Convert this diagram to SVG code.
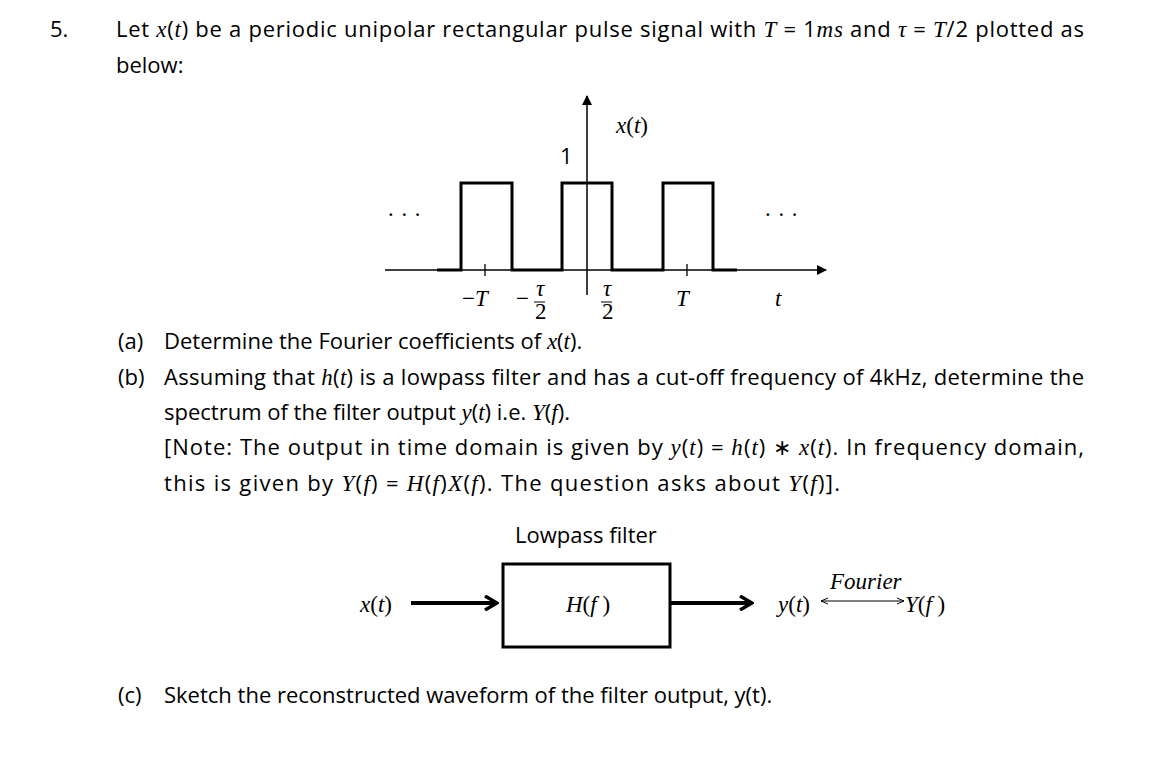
<svg xmlns="http://www.w3.org/2000/svg" width="1157" height="760" viewBox="0 0 1157 760">
<style>
.t{font-family:"Open Sans","Noto Sans",sans-serif;font-size:22px;fill:#000}
.m{font-family:"Liberation Serif",serif;font-style:italic;font-size:23px}
.mi{font-family:"Liberation Serif",serif;font-size:23px;fill:#000}
.ln{stroke:#000;fill:none}
</style>
<defs>
<marker id="ah" markerWidth="10" markerHeight="10" refX="9" refY="5" orient="auto" markerUnits="userSpaceOnUse"><path d="M0,0 L10,5 L0,10 Z" fill="#000"/></marker>
<marker id="sa" markerWidth="8" markerHeight="8" refX="7" refY="4" orient="auto" markerUnits="userSpaceOnUse"><path d="M0,1 L7,4 L0,7" fill="none" stroke="#000"/></marker>
<marker id="sb" markerWidth="8" markerHeight="8" refX="1" refY="4" orient="auto" markerUnits="userSpaceOnUse"><path d="M8,1 L1,4 L8,7" fill="none" stroke="#000"/></marker>
<marker id="bh" markerWidth="16" markerHeight="16" refX="14" refY="8" orient="auto" markerUnits="userSpaceOnUse"><path d="M2,1 L14,8 L2,15" fill="none" stroke="#000" stroke-width="3.5"/></marker>
</defs>
<rect width="1157" height="760" fill="#fff"/>
<g id="text">
<text class="t" x="50" y="37">5.</text>
<text class="t" x="116" y="37" textLength="968" lengthAdjust="spacing">Let <tspan class="m">x</tspan>(<tspan class="m">t</tspan>) be a periodic unipolar rectangular pulse signal with <tspan class="m">T</tspan> = 1<tspan class="m">ms</tspan> and <tspan class="m">τ</tspan> = <tspan class="m">T</tspan>/2 plotted as</text>
<text class="t" x="116" y="73">below:</text>
<text class="t" x="118" y="349">(a)</text>
<text class="t" x="164" y="349">Determine the Fourier coefficients of <tspan class="m">x</tspan>(<tspan class="m">t</tspan>).</text>
<text class="t" x="118" y="385">(b)</text>
<text class="t" x="164" y="385" textLength="920" lengthAdjust="spacing">Assuming that <tspan class="m">h</tspan>(<tspan class="m">t</tspan>) is a lowpass filter and has a cut-off frequency of 4kHz, determine the</text>
<text class="t" x="164" y="420">spectrum of the filter output <tspan class="m">y</tspan>(<tspan class="m">t</tspan>) i.e. <tspan class="m">Y</tspan>(<tspan class="m">f</tspan>).</text>
<text class="t" x="164" y="455" textLength="920" lengthAdjust="spacing">[Note: The output in time domain is given by <tspan class="m">y</tspan>(<tspan class="m">t</tspan>) = <tspan class="m">h</tspan>(<tspan class="m">t</tspan>) ∗ <tspan class="m">x</tspan>(<tspan class="m">t</tspan>). In frequency domain,</text>
<text class="t" x="164" y="491" textLength="676" lengthAdjust="spacing">this is given by <tspan class="m">Y</tspan>(<tspan class="m">f</tspan>) = <tspan class="m">H</tspan>(<tspan class="m">f</tspan>)<tspan class="m">X</tspan>(<tspan class="m">f</tspan>). The question asks about <tspan class="m">Y</tspan>(<tspan class="m">f</tspan>)].</text>
<text class="t" x="118" y="703">(c)</text>
<text class="t" x="164" y="703">Sketch the reconstructed waveform of the filter output, y(t).</text>
</g>
<g id="plot">
<line class="ln" x1="385" y1="270" x2="826" y2="270" stroke-width="1.5" marker-end="url(#ah)"/>
<line class="ln" x1="587" y1="295" x2="587" y2="96" stroke-width="1.5" marker-end="url(#ah)"/>
<path class="ln" stroke-width="3" d="M437,270 H461 V183 H512 V270 H562 V183 H612 V270 H663 V183 H713 V270 H737"/>
<line class="ln" x1="485" y1="264" x2="485" y2="276" stroke-width="1.3"/>
<line class="ln" x1="687" y1="264" x2="687" y2="276" stroke-width="1.3"/>
<text class="mi" x="616" y="133" font-size="26"><tspan font-style="italic">x</tspan>(<tspan font-style="italic">t</tspan>)</text>
<text class="t" x="560" y="164">1</text>
<text class="mi" x="387" y="222">· · ·</text>
<text class="mi" x="764" y="222">· · ·</text>
<text class="mi" x="462" y="306" font-size="25">−<tspan font-style="italic">T</tspan></text>
<text class="mi" x="516" y="306" font-size="25">−</text>
<text class="mi" x="536" y="296" font-size="12" font-style="italic">τ</text>
<line class="ln" x1="534" y1="302" x2="545" y2="302" stroke-width="1"/>
<text class="mi" x="535" y="319" font-size="14">2</text>
<text class="mi" x="603" y="296" font-size="12" font-style="italic">τ</text>
<line class="ln" x1="601" y1="302" x2="612" y2="302" stroke-width="1"/>
<text class="mi" x="602" y="319" font-size="14">2</text>
<text class="mi" x="676" y="306" font-size="25" font-style="italic">T</text>
<text class="mi" x="775" y="306" font-size="25" font-style="italic">t</text>
</g>
<g id="filter">
<rect x="503" y="564" width="167" height="83" fill="#fff" stroke="#000" stroke-width="3"/>
<text class="mi" x="588" y="612" font-size="25" text-anchor="middle"><tspan font-style="italic">H</tspan>(<tspan font-style="italic">f </tspan>)</text>
<text class="t" x="515" y="543">Lowpass filter</text>
</g>
<g id="input"><text class="mi" x="360" y="612" font-size="25"><tspan font-style="italic">x</tspan>(<tspan font-style="italic">t</tspan>)</text></g>
<g id="output">
<text class="mi" x="778" y="612" font-size="25"><tspan font-style="italic">y</tspan>(<tspan font-style="italic">t</tspan>)</text>
<text class="mi" x="830" y="589" font-size="16" font-style="italic">Fourier</text>
<text class="mi" x="905" y="612" font-size="25"><tspan font-style="italic">Y</tspan>(<tspan font-style="italic">f </tspan>)</text>
</g>
<g id="connectors">
<line class="ln" x1="411" y1="603" x2="497" y2="603" stroke-width="4" marker-end="url(#bh)"/>
<line class="ln" x1="671" y1="603" x2="752" y2="603" stroke-width="4" marker-end="url(#bh)"/>
<line class="ln" x1="821" y1="601" x2="904" y2="601" stroke-width="1.2" marker-start="url(#sb)" marker-end="url(#sa)"/>
</g>
</svg>
